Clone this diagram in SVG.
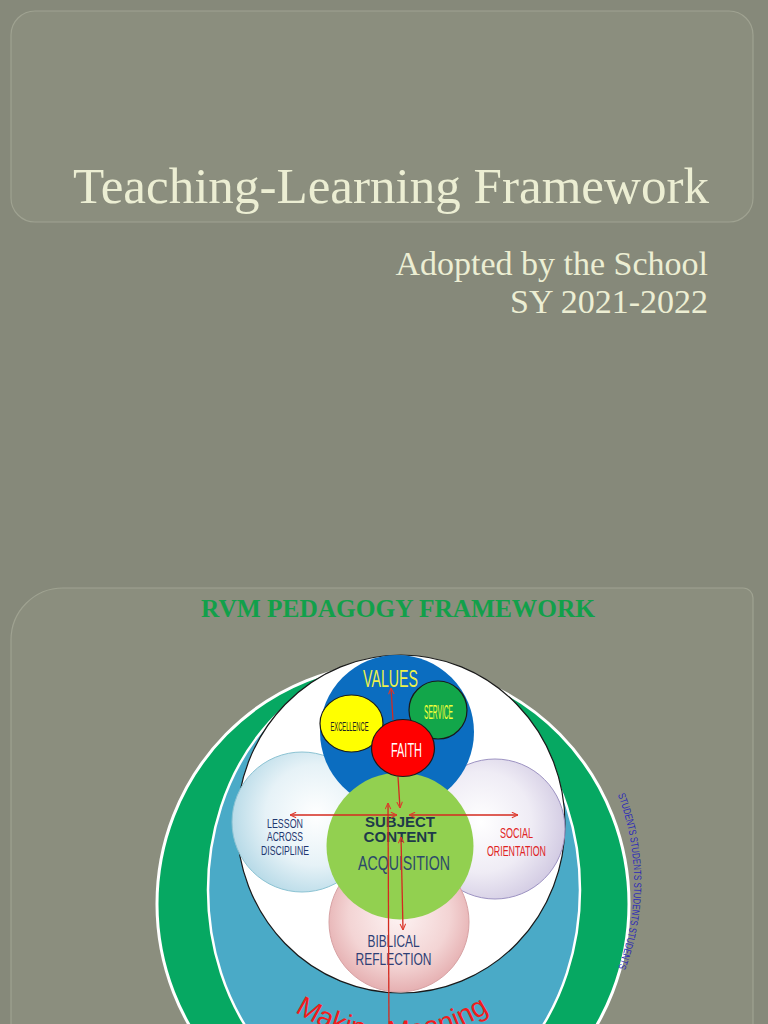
<svg xmlns="http://www.w3.org/2000/svg" width="768" height="1024" viewBox="0 0 768 1024">
<style>
.bg{fill:#86897a}
.panel{fill:#8b8e7e;stroke:#9fa291;stroke-width:1.2}
.serif{font-family:"Liberation Serif","Times New Roman",serif}
.sans{font-family:"Liberation Sans",Arial,sans-serif}
.cream{fill:#eceed3}
.arrow{stroke:#d42a1f;stroke-width:1.3;fill:none}
</style>
<defs>
<marker id="ah" viewBox="0 0 8 8" refX="7.5" refY="4" markerWidth="7" markerHeight="7" markerUnits="userSpaceOnUse" orient="auto-start-reverse">
<path d="M0.5,0.8 L7.5,4 L0.5,7.2" fill="none" stroke="#e03a2e" stroke-width="1.2"/>
</marker>
<radialGradient id="gLesson" cx="0.6" cy="0.45" r="0.6">
<stop offset="0" stop-color="#ffffff"/><stop offset="0.6" stop-color="#e6f2f7"/><stop offset="1" stop-color="#b9dbe8"/>
</radialGradient>
<radialGradient id="gSocial" cx="0.4" cy="0.45" r="0.6">
<stop offset="0" stop-color="#ffffff"/><stop offset="0.6" stop-color="#efecf5"/><stop offset="1" stop-color="#d4cde4"/>
</radialGradient>
<radialGradient id="gBib" cx="0.5" cy="0.45" r="0.6">
<stop offset="0" stop-color="#fdf3f3"/><stop offset="0.6" stop-color="#f3d4d4"/><stop offset="1" stop-color="#e2a6a8"/>
</radialGradient>
<path id="studentsArc" d="M 611.4 780.1 A 241 241 0 0 1 611.4 983.9"/>
<path id="meaningArc" d="M 236 950 A 180 180 0 0 0 548 950"/>
</defs>

<rect class="bg" x="0" y="0" width="768" height="1024"/>

<g id="title-panel">
<rect class="panel" x="11" y="11" width="742" height="211" rx="24"/>
<text class="serif cream" x="73" y="203" font-size="50" textLength="636" lengthAdjust="spacingAndGlyphs">Teaching-Learning Framework</text>
<text class="serif cream" x="708" y="275" font-size="34" text-anchor="end">Adopted by the School</text>
<text class="serif cream" x="708" y="313" font-size="34" text-anchor="end">SY 2021-2022</text>
</g>

<g id="framework-panel">
<path class="panel" d="M 11 1030 V 640 A 52 52 0 0 1 63 588 H 743 A 10 10 0 0 1 753 598 V 1030 Z"/>
<text class="serif" x="201" y="617" font-size="25" font-weight="bold" fill="#12a04a" textLength="394" lengthAdjust="spacingAndGlyphs">RVM PEDAGOGY FRAMEWORK</text>
</g>

<g id="rings">
<ellipse cx="393" cy="904" rx="236" ry="240" fill="#06a862" stroke="#ffffff" stroke-width="3"/>
<ellipse cx="394" cy="890" rx="186" ry="226" fill="#4aaac7" stroke="#ffffff" stroke-width="2.5"/>
<ellipse cx="401" cy="824" rx="164" ry="169" fill="#ffffff" stroke="#1a1a1a" stroke-width="1.2"/>
<text class="sans" font-size="28" fill="#f21c1c"><textPath href="#meaningArc" startOffset="50%" text-anchor="middle">Making Meaning</textPath></text>
<text class="sans" font-size="10.5" fill="#2b2bb8"><textPath href="#studentsArc" startOffset="16" textLength="177" lengthAdjust="spacingAndGlyphs">STUDENTS STUDENTS STUDENTS STUDENTS</textPath></text>
</g>

<g id="lesson">
<circle cx="302" cy="822" r="70" fill="url(#gLesson)" stroke="#8cc3d3" stroke-width="1"/>
<g class="sans" font-size="12" fill="#1f3870" text-anchor="middle">
<text x="285" y="828" textLength="36" lengthAdjust="spacingAndGlyphs">LESSON</text>
<text x="285" y="841" textLength="36" lengthAdjust="spacingAndGlyphs">ACROSS</text>
<text x="285" y="855" textLength="48" lengthAdjust="spacingAndGlyphs">DISCIPLINE</text>
</g>
</g>

<g id="social">
<circle cx="495" cy="829" r="70" fill="url(#gSocial)" stroke="#9d93c2" stroke-width="1"/>
<g class="sans" font-size="15" fill="#e02424" text-anchor="middle">
<text x="516.5" y="838" textLength="33" lengthAdjust="spacingAndGlyphs">SOCIAL</text>
<text x="516.5" y="856" textLength="59" lengthAdjust="spacingAndGlyphs">ORIENTATION</text>
</g>
</g>

<g id="biblical">
<circle cx="399" cy="922" r="70" fill="url(#gBib)" stroke="#d7a2a4" stroke-width="1"/>
<g class="sans" font-size="16" fill="#2e3f75" text-anchor="middle">
<text x="393.5" y="947" textLength="52" lengthAdjust="spacingAndGlyphs">BIBLICAL</text>
<text x="393.5" y="965" textLength="76" lengthAdjust="spacingAndGlyphs">REFLECTION</text>
</g>
</g>

<g id="values">
<circle cx="397" cy="732" r="77" fill="#0b6dc0"/>
<text class="sans" x="390.5" y="687" font-size="23" fill="#eef24a" text-anchor="middle" textLength="55" lengthAdjust="spacingAndGlyphs">VALUES</text>
</g>

<g id="excellence">
<ellipse cx="351.5" cy="723.5" rx="31.5" ry="28.5" fill="#ffff00" stroke="#1a1a1a" stroke-width="1.2"/>
<text class="sans" x="349.5" y="731" font-size="13" fill="#222" text-anchor="middle" textLength="38" lengthAdjust="spacingAndGlyphs">EXCELLENCE</text>
</g>

<g id="service">
<circle cx="438" cy="710" r="29" fill="#12a64a" stroke="#1a1a1a" stroke-width="1.2"/>
<text class="sans" x="438.5" y="719" font-size="20" fill="#f2ff3a" text-anchor="middle" textLength="29" lengthAdjust="spacingAndGlyphs">SERVICE</text>
</g>

<g id="subject">
<circle cx="400" cy="846" r="73.5" fill="#92d050"/>
<text class="sans" x="400" y="827" font-size="14" font-weight="bold" fill="#1e3a4a" text-anchor="middle" textLength="70" lengthAdjust="spacingAndGlyphs">SUBJECT</text>
<text class="sans" x="400" y="842" font-size="14" font-weight="bold" fill="#1e3a4a" text-anchor="middle" textLength="73" lengthAdjust="spacingAndGlyphs">CONTENT</text>
<text class="sans" x="404" y="870" font-size="20" fill="#2c4a6a" text-anchor="middle" textLength="92" lengthAdjust="spacingAndGlyphs">ACQUISITION</text>
</g>

<g id="faith">
<ellipse cx="403" cy="748" rx="31.5" ry="28.5" fill="#ff0000" stroke="#1a1a1a" stroke-width="1.2"/>
<text class="sans" x="406.5" y="757" font-size="21" fill="#ffffff" text-anchor="middle" textLength="31" lengthAdjust="spacingAndGlyphs">FAITH</text>
</g>

<g id="connectors">
<line class="arrow" x1="393" y1="720" x2="391" y2="688" marker-end="url(#ah)"/>
<line class="arrow" x1="398" y1="777" x2="400" y2="808" marker-end="url(#ah)"/>
<line class="arrow" x1="290" y1="815" x2="397" y2="815" marker-start="url(#ah)" marker-end="url(#ah)"/>
<line class="arrow" x1="409" y1="815" x2="518" y2="815" marker-start="url(#ah)" marker-end="url(#ah)"/>
<line class="arrow" x1="389" y1="1030" x2="388" y2="803" marker-end="url(#ah)"/>
<line class="arrow" x1="401" y1="837" x2="403" y2="930" marker-start="url(#ah)" marker-end="url(#ah)"/>
</g>
</svg>
